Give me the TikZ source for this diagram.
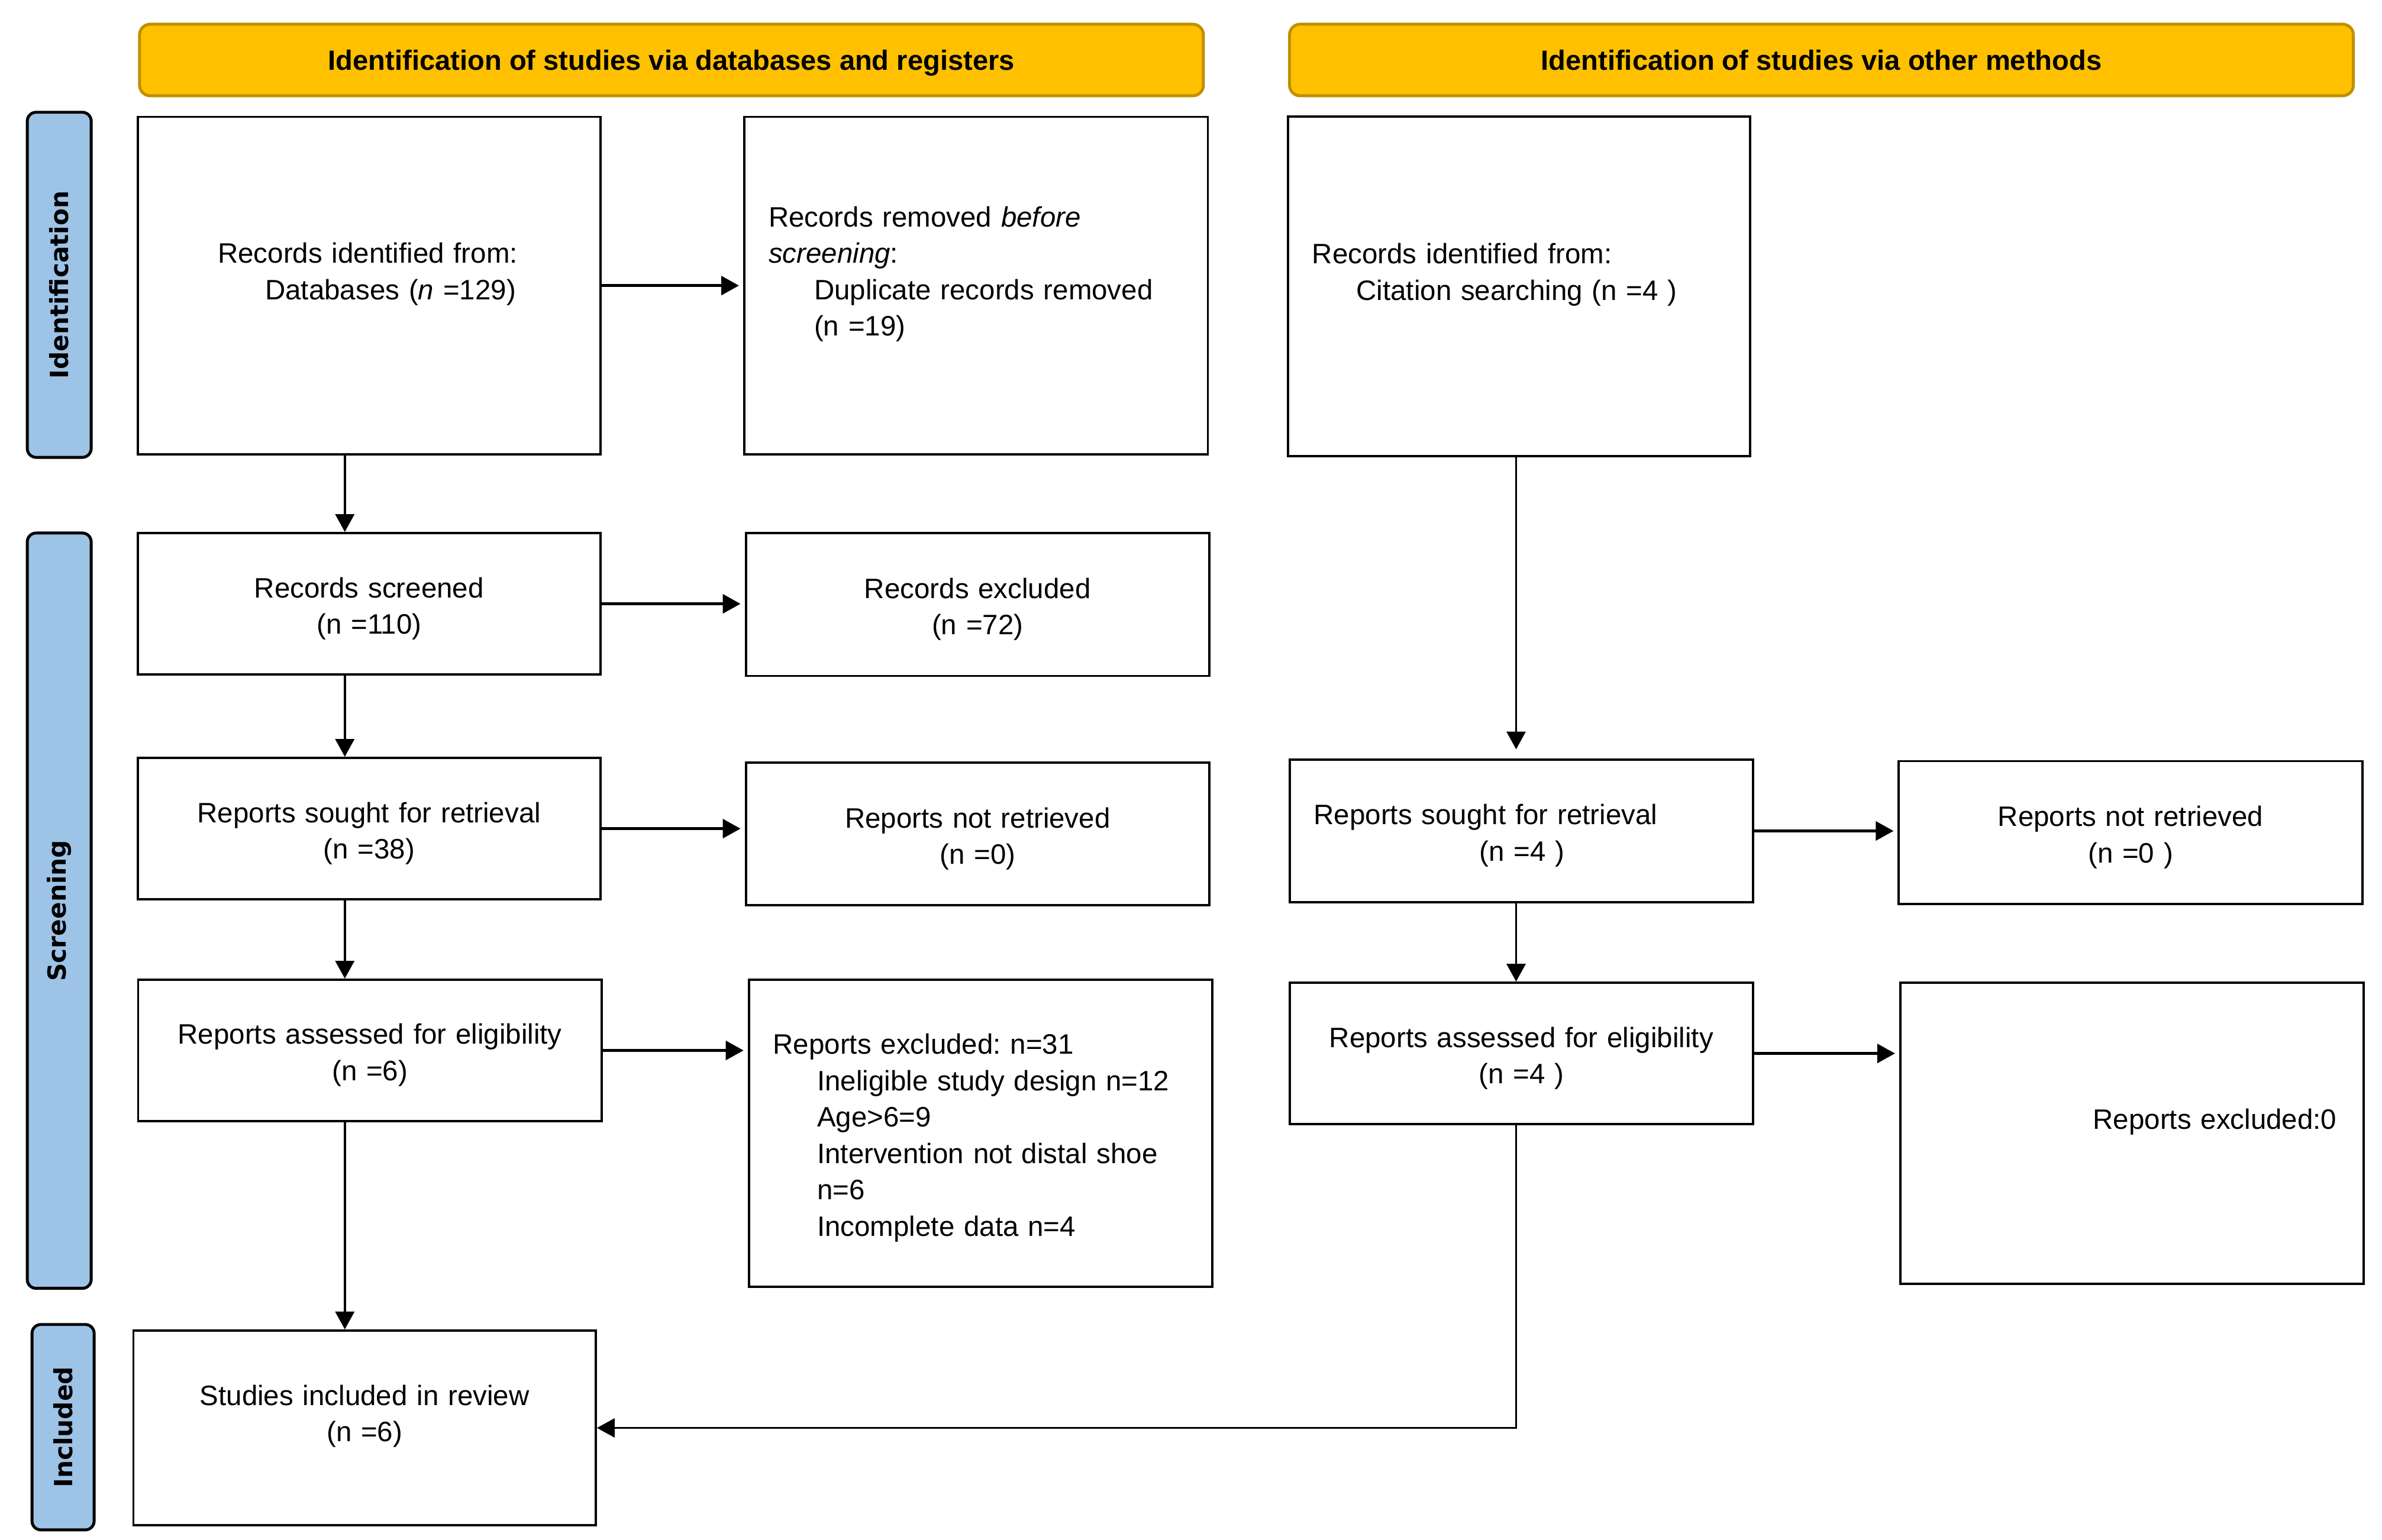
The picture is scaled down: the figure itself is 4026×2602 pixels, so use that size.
\documentclass[tikz,border=0pt]{standalone}
\usepackage{fontspec}
\setmainfont{Liberation Sans}
\newfontfamily\sidefont{DejaVu Sans}
\usetikzlibrary{arrows.meta}
\definecolor{headfill}{HTML}{FFC000}
\definecolor{headedge}{HTML}{BF9000}
\definecolor{sideblue}{HTML}{9DC3E6}
\newcommand{\padline}{\\[1pt]\mbox{}}

\begin{document}
\frenchspacing
\begin{tikzpicture}[
  x=0.01cm, y=-0.01cm,
  box/.style={rectangle, draw, line width=1.1pt, align=center, inner ysep=0pt, inner xsep=0.3cm, text width=7.2cm, font=\fontsize{13.5}{17.5}\selectfont, execute at begin node={\rule{0pt}{14.3pt}}},
  leftbox/.style={box, align=left, inner xsep=0.41cm, text width=#1},
  header/.style={rectangle, draw=headedge, fill=headfill, line width=1.4pt, rounded corners=0.18cm, minimum width=17.97cm, minimum height=1.21cm, text height=9.8pt, text depth=0pt, font=\bfseries\fontsize{13.4}{16}\selectfont},
  phase/.style={rectangle, draw=black, fill=sideblue, line width=1.4pt, rounded corners=0.15cm, rotate=90, font=\sidefont\bfseries\fontsize{12}{14}\selectfont},
  arrow/.style={-{Triangle[length=0.3cm, width=0.32cm]}, line width=1pt},
  sidearrow/.style={arrow, line width=1.3pt, shorten >=2pt}
]
\useasboundingbox (0,0) rectangle (4026,2602);

% headers and phases
\node[header] (dbhead) at (1134.9,101.4) {Identification of studies via databases and registers};
\node[header] (othhead) at (3078.5,101.4) {Identification of studies via other methods};
\node[phase, minimum width=5.83cm, minimum height=1.08cm] (idphase) at (100.1,481.4) {Identification};
\node[phase, minimum width=12.76cm, minimum height=1.08cm] (scrphase) at (100.1,1539.3) {Screening};
\node[phase, minimum width=3.47cm, minimum height=1.05cm] (incphase) at (106.6,2412.3) {Included};

% databases and registers
\node[box, align=left, inner xsep=1.35cm, text width=5.11cm, minimum width=7.81cm, minimum height=5.70cm] (dbid) at (623.9,482.7) {Records identified from:\\\hspace*{0.8cm}Databases (\textit{n} =129)\padline};
\node[leftbox=7.01cm, minimum width=7.83cm, minimum height=5.70cm] (dbrem) at (1649.7,482.7) {Records removed \textit{before}\\\textit{screening}:\\\hspace*{0.77cm}Duplicate records removed\\\hspace*{0.77cm}(n =19)\padline};
\node[box, minimum width=7.81cm, minimum height=2.39cm] (scr) at (623.9,1020.6) {Records screened\\(n =110)};
\node[box, minimum width=7.83cm, minimum height=2.41cm] (screx) at (1652.3,1021.9) {Records excluded\\(n =72)};
\node[box, minimum width=7.81cm, minimum height=2.39cm] (dbsought) at (623.9,1400.6) {Reports sought for retrieval\\(n =38)};
\node[box, minimum width=7.83cm, minimum height=2.41cm] (dbnotret) at (1652.3,1409.6) {Reports not retrieved\\(n =0)};
\node[box, minimum width=7.83cm, minimum height=2.39cm] (dbelig) at (625.2,1775.5) {Reports assessed for eligibility\\(n =6)};
\node[leftbox=7.01cm, minimum width=7.83cm, minimum height=5.19cm] (dbexcl) at (1657.4,1915.4) {Reports excluded: n=31\\\hspace*{0.745cm}Ineligible study design n=12\\\hspace*{0.745cm}Age>6=9\\\hspace*{0.745cm}Intervention not distal shoe\\\hspace*{0.745cm}n=6\\\hspace*{0.745cm}Incomplete data n=4};
\node[box, minimum width=7.81cm, minimum height=3.29cm] (incl) at (616.2,2413.5) {Studies included in review\\(n =6)\padline};

% other methods
\node[leftbox=6.99cm, minimum width=7.81cm, minimum height=5.73cm] (citid) at (2567.6,484.0) {Records identified from:\\\hspace*{0.745cm}Citation searching (n =4 )\padline};
\node[leftbox=7.01cm, minimum width=7.83cm, minimum height=2.41cm] (citsought) at (2571.4,1404.5) {Reports sought for retrieval\\\hspace*{2.8cm}(n =4 )};
\node[box, minimum width=7.83cm, minimum height=2.41cm] (citnotret) at (3601.1,1407.0) {Reports not retrieved\\(n =0 )};
\node[box, minimum width=7.83cm, minimum height=2.39cm] (citelig) at (2571.4,1780.6) {Reports assessed for eligibility\\(n =4 )};
\node[box, align=right, inner xsep=0.46cm, text width=6.91cm, minimum width=7.83cm, minimum height=5.08cm] (citexcl) at (3603.6,1915.4) {Reports excluded:0\padline};

\coordinate (dblane) at (582.8,0);
\coordinate (citlane) at (2562.5,0);

% down the columns
\draw[arrow] (dbid.south -| dblane) -- (scr.north -| dblane);
\draw[arrow] (scr.south -| dblane) -- (dbsought.north -| dblane);
\draw[arrow] (dbsought.south -| dblane) -- (dbelig.north -| dblane);
\draw[arrow] (dbelig.south -| dblane) -- (incl.north -| dblane);
\draw[arrow] (citid.south -| citlane) -- ([yshift=4.4pt]citsought.north -| citlane);
\draw[arrow] (citsought.south -| citlane) -- (citelig.north -| citlane);
\draw[arrow] (citelig.south -| citlane) |- (incl.east);

% to the side boxes
\draw[sidearrow] (dbid.east) -- (dbrem.west);
\draw[sidearrow] (scr.east) -- (scr.east -| screx.west);
\draw[sidearrow] (dbsought.east) -- (dbsought.east -| dbnotret.west);
\draw[sidearrow] (dbelig.east) -- (dbelig.east -| dbexcl.west);
\draw[sidearrow] (citsought.east) -- (citsought.east -| citnotret.west);
\draw[sidearrow] (citelig.east) -- (citelig.east -| citexcl.west);
\end{tikzpicture}
\end{document}
